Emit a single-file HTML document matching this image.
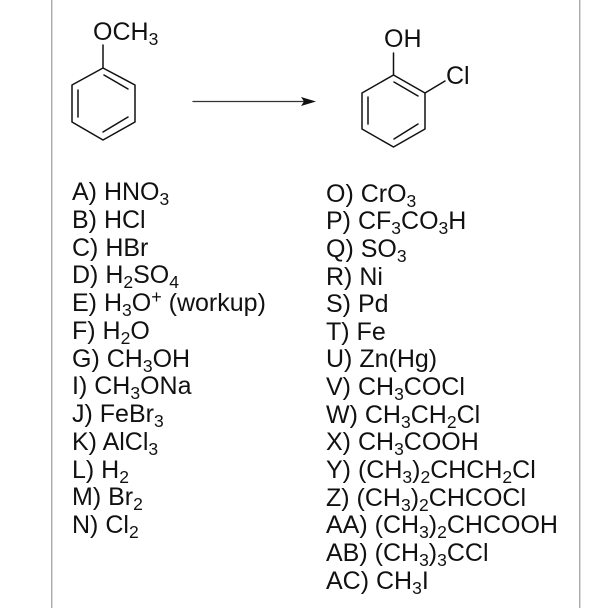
<!DOCTYPE html>
<html><head><meta charset="utf-8"><style>
html,body{margin:0;padding:0;background:#fff}
#p{position:relative;width:608px;height:608px;overflow:hidden;background:#fff;font-family:"Liberation Sans",Arial,sans-serif;color:#111}
svg{position:absolute;left:0;top:0}
.t{position:absolute;font-size:25px;line-height:24px;height:24px;white-space:nowrap}
.t b{font-weight:normal;font-size:17.500px;position:relative;top:5px;line-height:0}
.t i{font-style:normal;font-size:18px;position:relative;top:-8px;line-height:0}
</style></head><body><div id="p">
<svg width="608" height="608" viewBox="0 0 608 608">
<rect x="51" y="0" width="1.4" height="608" fill="#aaa"/>
<rect x="579" y="0" width="1.4" height="608" fill="#aaa"/>
<g stroke="#111" stroke-width="1.5" fill="none" stroke-linecap="round" stroke-linejoin="round">
<path d="M103 45V68L135 85V122L103 140L72 122V85L103 68"/>
<path d="M104 75L128 89M78 90V117M128 117L103 132"/>
<path d="M393.500 53V75L425 93V129L393.500 147L362 129V93L393.500 75"/>
<path d="M394 82L418 96M368 97V124M418 124L394 139M425 93L445 81"/>
<path d="M193 101.500H305" stroke="#333" stroke-width="1.300"/>
</g>
<path d="M301 97L316 101.500L301 106L304 101.500Z" fill="#111"/>
</svg>
<div class="t" style="left:93px;top:20px">OCH<b>3</b></div>
<div class="t" style="left:384px;top:27px">OH</div>
<div class="t" style="left:446px;top:64px">Cl</div>

<div class="t" style="left:72px;top:180px">A) HNO<b>3</b></div>
<div class="t" style="left:72px;top:208px">B) HCl</div>
<div class="t" style="left:72px;top:236px">C) HBr</div>
<div class="t" style="left:72px;top:263px">D) H<b>2</b>SO<b>4</b></div>
<div class="t" style="left:72px;top:291px">E) H<b>3</b>O<i>+</i> (workup)</div>
<div class="t" style="left:72px;top:319px">F) H<b>2</b>O</div>
<div class="t" style="left:72px;top:347px">G) CH<b>3</b>OH</div>
<div class="t" style="left:72px;top:374px">I) CH<b>3</b>ONa</div>
<div class="t" style="left:72px;top:402px">J) FeBr<b>3</b></div>
<div class="t" style="left:72px;top:430px">K) AlCl<b>3</b></div>
<div class="t" style="left:72px;top:458px">L) H<b>2</b></div>
<div class="t" style="left:72px;top:485px">M) Br<b>2</b></div>
<div class="t" style="left:72px;top:513px">N) Cl<b>2</b></div>

<div class="t" style="left:326px;top:182px">O) CrO<b>3</b></div>
<div class="t" style="left:326px;top:209px">P) CF<b>3</b>CO<b>3</b>H</div>
<div class="t" style="left:326px;top:237px">Q) SO<b>3</b></div>
<div class="t" style="left:326px;top:265px">R) Ni</div>
<div class="t" style="left:326px;top:292px">S) Pd</div>
<div class="t" style="left:326px;top:320px">T) Fe</div>
<div class="t" style="left:326px;top:347px">U) Zn(Hg)</div>
<div class="t" style="left:326px;top:375px">V) CH<b>3</b>COCl</div>
<div class="t" style="left:326px;top:403px">W) CH<b>3</b>CH<b>2</b>Cl</div>
<div class="t" style="left:326px;top:430px">X) CH<b>3</b>COOH</div>
<div class="t" style="left:326px;top:458px">Y) (CH<b>3</b>)<b>2</b>CHCH<b>2</b>Cl</div>
<div class="t" style="left:326px;top:486px">Z) (CH<b>3</b>)<b>2</b>CHCOCl</div>
<div class="t" style="left:326px;top:513px">AA) (CH<b>3</b>)<b>2</b>CHCOOH</div>
<div class="t" style="left:326px;top:541px">AB) (CH<b>3</b>)<b>3</b>CCl</div>
<div class="t" style="left:326px;top:569px">AC) CH<b>3</b>I</div>
</div></body></html>
